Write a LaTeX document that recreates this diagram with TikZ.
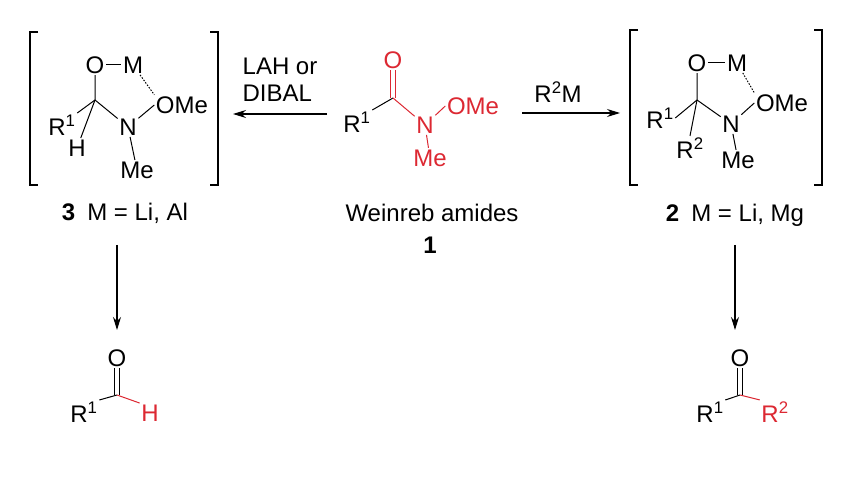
\documentclass[tikz,border=0pt]{standalone}
\usepackage{fontspec}
\setmainfont{Liberation Sans}
\usetikzlibrary{arrows.meta}
\definecolor{chemred}{RGB}{220,40,50}
\newcommand{\sups}[1]{\textsuperscript{#1}}
\begin{document}
\begin{tikzpicture}[x=1pt,y=-1pt,
atom/.style={inner sep=1.5pt, font=\fontsize{24}{27}\selectfont},
ratom/.style={atom, text=chemred},
bond/.style={line width=1pt},
rbond/.style={bond, draw=chemred},
dbond/.style={line width=1pt, dash pattern=on 1.5pt off 1.5pt},
rxn/.style={line width=1.1pt, -{Stealth[length=13pt,width=8pt]}},
brk/.style={line width=1.1pt},
]
\useasboundingbox (0,0) rectangle (856,478);
%Intermediate 3
\node[atom] (o3)  at (95,65)  {O};
\node[atom] (m3)  at (133,65) {M};
\coordinate (c3)  at (95,100);
\node[atom] (r3)  at (62,125) {R\sups{1}};
\node[atom] (h3)  at (77,148) {H};
\node[atom] (n3)  at (128,127) {N};
\node[atom] (ome3) at (182,105) {OMe};
\node[atom] (me3) at (137,170) {Me};
\draw[bond] (o3) -- (m3);
\draw[bond] (o3) -- (c3) -- (n3);
\draw[bond] (c3) -- (r3.north east);
\draw[bond] (c3) -- (h3);
\draw[bond] (n3) -- (me3);
\draw[bond] (n3) -- (ome3.west);
\draw[dbond] (m3) -- (ome3.north west);
\draw[brk] (38,32) -- (30,32) -- (30,185) -- (38,185);
\draw[brk] (210,32) -- (218,32) -- (218,185) -- (210,185);
\node[atom] (lab3) at (125,213) {\textbf{3}\enspace M = Li, Al};
%Weinreb amide 1
\node[ratom] (o1) at (393,60) {O};
\coordinate (c1) at (393,98);
\node[atom] (r1) at (357,122) {R\sups{1}};
\node[ratom] (n1) at (425,125) {N};
\node[ratom] (ome1) at (473,106) {OMe};
\node[ratom] (me1) at (430,158) {Me};
\draw[bond] (c1) -- (r1.north east);
\draw[rbond] (c1) -- (n1);
\draw[rbond] ([xshift=-2.5pt]o1.south) -- ([xshift=-2.5pt]c1);
\draw[rbond] ([xshift=2.5pt]o1.south) -- ([xshift=2.5pt]c1);
\draw[rbond] (n1) -- (ome1.west);
\draw[rbond] (n1) -- (me1);
\node[atom] (lab1) at (432,213) {Weinreb amides};
\node[atom] (num1) at (430,245) {\textbf{1}};
%Intermediate 2
\node[atom] (o2)  at (697,63)  {O};
\node[atom] (m2)  at (737,63) {M};
\coordinate (c2)  at (697,100);
\node[atom] (r12) at (660,118) {R\sups{1}};
\node[atom] (r22) at (690,148) {R\sups{2}};
\node[atom] (n2)  at (731,124) {N};
\node[atom] (ome2) at (782,103) {OMe};
\node[atom] (me2) at (738,160) {Me};
\draw[bond] (o2) -- (m2);
\draw[bond] (o2) -- (c2) -- (n2);
\draw[bond] (c2) -- (r12.east);
\draw[bond] (c2) -- (r22.north);
\draw[bond] (n2) -- (me2);
\draw[bond] (n2) -- (ome2.west);
\draw[dbond] (m2) -- (ome2.north west);
\draw[brk] (638,30) -- (630,30) -- (630,185) -- (638,185);
\draw[brk] (814,30) -- (822,30) -- (822,185) -- (814,185);
\node[atom] (lab2) at (735,215) {\textbf{2}\enspace M = Li, Mg};
%Aldehyde
\node[atom] (oa) at (117,358) {O};
\coordinate (ca) at (117,395);
\node[atom] (ra) at (84,412) {R\sups{1}};
\node[ratom] (ha) at (150,413) {H};
\draw[bond] ([xshift=-2.5pt]oa.south) -- ([xshift=-2.5pt]ca);
\draw[bond] ([xshift=2.5pt]oa.south) -- ([xshift=2.5pt]ca);
\draw[bond] (ca) -- (ra.north east);
\draw[rbond] (ca) -- (ha.north west);
%Ketone
\node[atom] (ok) at (740,358) {O};
\coordinate (ck) at (740,395);
\node[atom] (rk1) at (710,412) {R\sups{1}};
\node[ratom] (rk2) at (775,412) {R\sups{2}};
\draw[bond] ([xshift=-2.5pt]ok.south) -- ([xshift=-2.5pt]ck);
\draw[bond] ([xshift=2.5pt]ok.south) -- ([xshift=2.5pt]ck);
\draw[bond] (ck) -- (rk1.north east);
\draw[rbond] (ck) -- (rk2.north west);
%Arrows
\coordinate (al) at (327,114);
\coordinate (ar) at (233,114);
\draw[rxn] (al) -- (ar);
\node[atom, align=left] (lah) at (280,80) {LAH or\\DIBAL};
\coordinate (bl) at (522,113);
\coordinate (br) at (620,113);
\draw[rxn] (bl) -- (br);
\node[atom] (r2m) at (558,92) {R\sups{2}M};
\coordinate (dl) at (117,245);
\coordinate (dr) at (735,245);
\draw[rxn] (dl) -- (117,330);
\draw[rxn] (dr) -- (735,330);
\end{tikzpicture}
\end{document}
